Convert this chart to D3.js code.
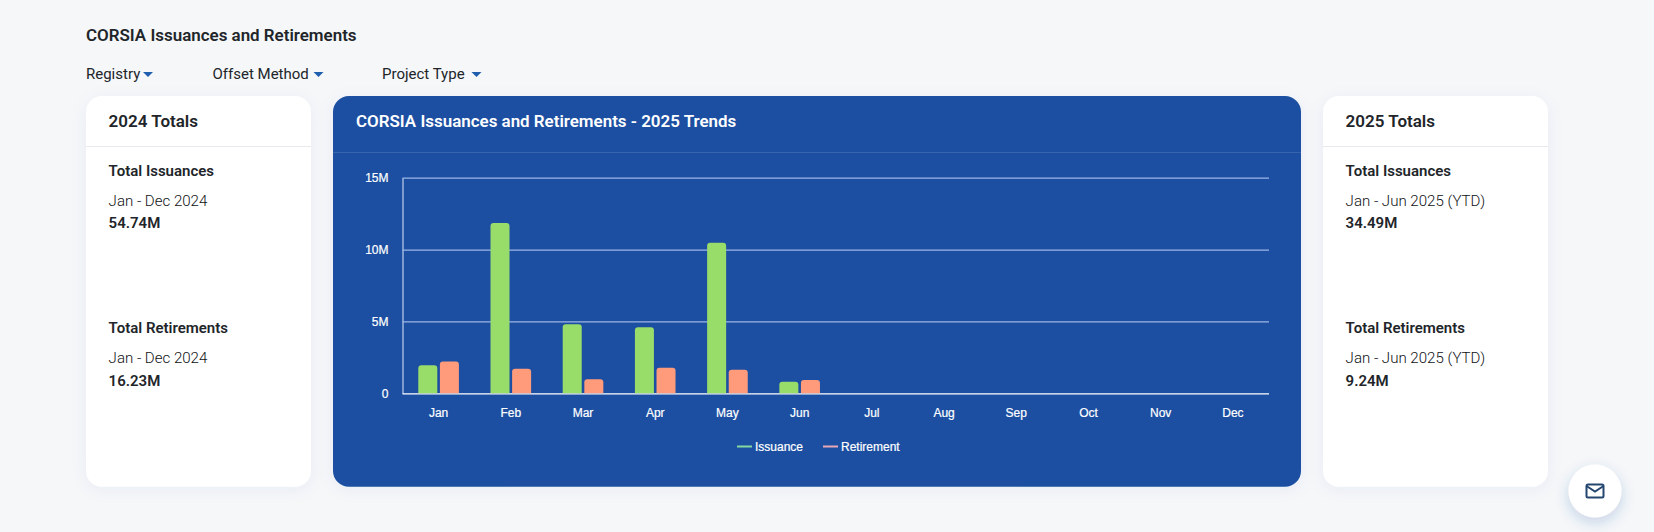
<!DOCTYPE html>
<html>
<head>
<meta charset="utf-8">
<title>CORSIA Issuances and Retirements</title>
<script src="https://cdn.jsdelivr.net/npm/d3@7"></script>
<style>
html,body{margin:0;padding:0;background:#f5f7f9;overflow:hidden}
svg{display:block;font-family:Roboto,sans-serif}
.axis text{font-family:"Liberation Sans",Arial,sans-serif;font-size:12px;fill:#fff;stroke:#fff;stroke-width:0.2px}
</style>
</head>
<body>
<svg id="page" width="1654" height="532"></svg>
<script>
// chart values, in millions
var months = ["Jan","Feb","Mar","Apr","May","Jun","Jul","Aug","Sep","Oct","Nov","Dec"];
var seriesNames = ["Issuance","Retirement"];
var issuance = [1.96,11.85,4.8,4.6,10.47,0.81];
var retirement = [2.22,1.7,0.98,1.78,1.63,0.93];
var yTicks = [0,5,10,15];
var yLabels = ["0","5M","10M","15M"];

var filterNames = ["Registry","Offset Method","Project Type"];
var cardTitles = ["2024 Totals","2025 Totals"];
var cardPeriods = ["Jan - Dec 2024","Jan - Jun 2025 (YTD)"];
var issuanceTotals = ["54.74M","34.49M"];
var retirementTotals = ["16.23M","9.24M"];

var blue = "#1a50a2", green = "#98dc6a", salmon = "#ff9b7a", dark = "#212529";

var svg = d3.select("#page");
var defs = svg.append("defs");

//soft shadows for the cards and the mail button
var f1 = defs.append("filter").attr("id","cardShadow").attr("x","-10%").attr("y","-10%").attr("width","120%").attr("height","120%");
f1.append("feDropShadow").attr("dx",0).attr("dy",3).attr("stdDeviation",8).attr("flood-color","#1a52a5").attr("flood-opacity",0.05);
var f2 = defs.append("filter").attr("id","btnShadow").attr("x","-50%").attr("y","-50%").attr("width","200%").attr("height","200%");
f2.append("feDropShadow").attr("dx",0).attr("dy",5).attr("stdDeviation",7).attr("flood-color","#1a52a5").attr("flood-opacity",0.22);

function addText(parent, x, y, str, size, weight, color){
	return parent.append("text")
		.attr("x", x).attr("y", y)
		.attr("font-size", size)
		.attr("font-weight", weight)
		.attr("fill", color)
		.text(str);
}

addText(svg, 86, 40.5, "CORSIA Issuances and Retirements", 16.95, 600, dark);

//filter row
var filterX = [86,212.5,382];
var caretX = [148,318.5,476.5];
filterNames.forEach(function(name, i){
	addText(svg, filterX[i], 79, name, 15, 400, dark);
	svg.append("path")
		.attr("d", d3.line()([[caretX[i]-5,72],[caretX[i]+5,72],[caretX[i],77]]) + "Z")
		.attr("fill", "#1f5fae");
});

//side cards
var cardX = [86,1323];
cardTitles.forEach(function(title, i){
	var g = svg.append("g").attr("transform", "translate(" + cardX[i] + ",0)");
	g.append("rect").attr("y",96).attr("width",225).attr("height",390.7).attr("rx",16)
		.attr("fill","#fff").attr("filter","url(#cardShadow)");
	g.append("line").attr("x1",0).attr("x2",225).attr("y1",146.5).attr("y2",146.5).attr("stroke","#e7e9ec");
	addText(g, 22.6, 127, title, 17, 600, dark);
	addText(g, 22.6, 175.5, "Total Issuances", 15, 600, dark);
	addText(g, 22.6, 206, cardPeriods[i], 15.05, 300, "#0f1114");
	addText(g, 22.6, 228, issuanceTotals[i], 15, 600, dark);
	addText(g, 22.6, 332.5, "Total Retirements", 15, 600, dark);
	addText(g, 22.6, 362.5, cardPeriods[i], 15.05, 300, "#0f1114");
	addText(g, 22.6, 386, retirementTotals[i], 15, 600, dark);
});

//blue chart card
svg.append("rect").attr("x",333).attr("y",96).attr("width",968).attr("height",390.7).attr("rx",16)
	.attr("fill",blue).attr("filter","url(#cardShadow)");
svg.append("line").attr("x1",333).attr("x2",1301).attr("y1",152.5).attr("y2",152.5).attr("stroke","#fff").attr("stroke-opacity",0.12);
addText(svg, 356, 127, "CORSIA Issuances and Retirements - 2025 Trends", 16.95, 600, "#fff");

var left = 402.5, right = 1269, top0 = 177.7, bottom = 393.3;

//outer padding is half the inner padding so each month keeps a full step
var x = d3.scaleBand().domain(months).range([left,right]).paddingInner(0.4375).paddingOuter(0.21875);
var xInner = d3.scaleBand().domain(seriesNames).range([0,x.bandwidth()]).paddingInner(0.12);
var y = d3.scaleLinear().domain([0,15]).range([bottom,top0]);

//gridlines
var yAxis = d3.axisLeft(y)
	.tickValues(yTicks)
	.tickSize(0)
	.tickPadding(14)
	.tickFormat(function(d,i){ return yLabels[i]; });
var yG = svg.append("g").attr("class","axis").attr("transform","translate(" + left + ",0)").call(yAxis);
yG.select(".domain").attr("stroke","#dfe8f6");
yG.selectAll(".tick line")
	.attr("x2", right-left)
	.attr("stroke", function(d){ return d === 0 ? "#fff" : "#9db6e6"; })
	.attr("stroke-width", 1.3);

var xAxis = d3.axisBottom(x).tickSize(0).tickPadding(15);
var xG = svg.append("g").attr("class","axis").attr("transform","translate(0," + bottom + ")").call(xAxis);
xG.select(".domain").remove();

//rounded only on the top corners
function barPath(px, w, py, h){
	var r = Math.min(3, h);
	return "M" + px + "," + (py+h) + "V" + (py+r) + "Q" + px + "," + py + " " + (px+r) + "," + py
		+ "H" + (px+w-r) + "Q" + (px+w) + "," + py + " " + (px+w) + "," + (py+r) + "V" + (py+h) + "Z";
}

[issuance, retirement].forEach(function(values, s){
	svg.append("g").selectAll("path")
		.data(values)
		.enter()
		.append("path")
		.attr("fill", s === 0 ? green : salmon)
		.attr("d", function(d,i){
			return barPath(x(months[i]) + xInner(seriesNames[s]), xInner.bandwidth(), y(d), bottom - y(d));
		});
});

//legend
var legendX = [737,823];
var legendColor = ["#84d9a0","#e9a9b4"];
seriesNames.forEach(function(name, i){
	svg.append("line").attr("x1",legendX[i]).attr("x2",legendX[i]+15)
		.attr("y1",446.5).attr("y2",446.5)
		.attr("stroke",legendColor[i]).attr("stroke-width",2);
	svg.append("text").attr("x",legendX[i]+18).attr("y",451)
		.attr("font-family","'Liberation Sans',Arial,sans-serif")
		.attr("font-size",12).attr("fill","#fff").attr("stroke","#fff").attr("stroke-width",0.2).text(name);
});

//mail button
svg.append("circle").attr("cx",1595).attr("cy",491).attr("r",26.5).attr("fill","#fff").attr("filter","url(#btnShadow)");
var mail = svg.append("g").attr("fill","none").attr("stroke","#24466f").attr("stroke-width",2);
mail.append("rect").attr("x",1586.5).attr("y",484.5).attr("width",17).attr("height",13).attr("rx",1.5);
mail.append("path").attr("d","M1586.5,486L1595,491.5L1603.5,486");
</script>
</body>
</html>
